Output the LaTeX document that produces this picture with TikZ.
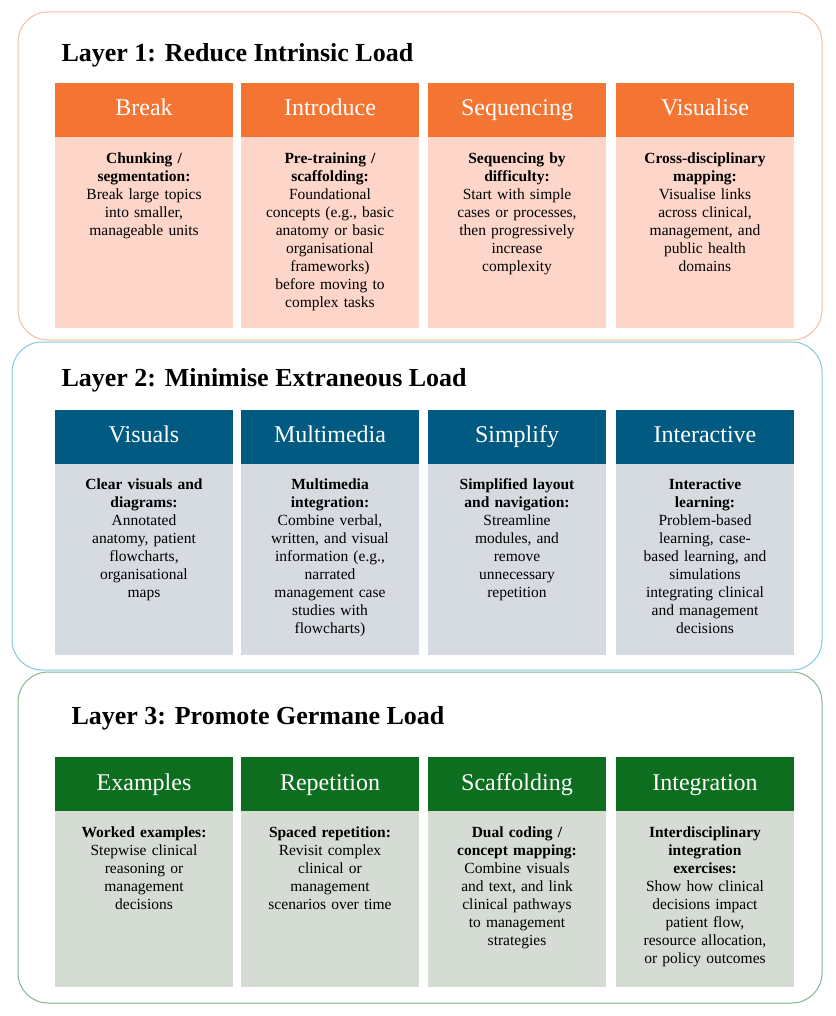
\documentclass[tikz,border=0pt]{standalone}
\usepackage{fontspec}
\setmainfont{Liberation Serif}
\begin{document}
\begin{tikzpicture}[x=1pt,y=-1pt,
  layer/.style={rounded corners=30pt,line width=1pt,fill=white},
  title/.style={anchor=west,font=\fontsize{26}{28}\selectfont\bfseries},
  head/.style={minimum width=178pt,minimum height=54pt,inner sep=0pt,text=white,text height=17pt,text depth=5pt,font=\fontsize{24}{26}\selectfont},
  body/.style={anchor=north,text width=176pt,align=center,font=\fontsize{15.5}{18}\selectfont}]
\definecolor{oh}{HTML}{F47533}\definecolor{ob}{HTML}{FDD5C9}\definecolor{ol}{HTML}{F6BBA0}
\definecolor{bh}{HTML}{005A82}\definecolor{bb}{HTML}{D6DAE1}\definecolor{bl}{HTML}{7FC8E8}
\definecolor{gh}{HTML}{0E6E20}\definecolor{gb}{HTML}{D4DCD4}\definecolor{gl}{HTML}{86B48F}
\useasboundingbox (0,0) rectangle (835,1016);
\draw[layer,draw=ol] (18,12) rectangle (822,340);
\draw[layer,draw=bl] (12,342) rectangle (822,670);
\draw[layer,draw=gl] (18,672) rectangle (822,1003);
\node[title] (t1) at (58,55) {Layer 1: Reduce Intrinsic Load};
\node[title] (t2) at (58,380) {Layer 2: Minimise Extraneous Load};
\node[title] (t3) at (68,718) {Layer 3: Promote Germane Load};
\newcommand\cell[9]{%
  \fill[#6] (#1-89,#2+#3) rectangle (#1+89,#4);
  \node[head,fill=#5] (h#7) at (#1,#2+#3/2) {#8};
  \node[body] (b#7) at (#1,#2+#3+12) {#9};}
\cell{144}{83}{54}{328}{oh}{ob}{a1}{Break}{\textbf{Chunking /\\segmentation:}\\Break large topics\\into smaller,\\manageable units}
\cell{330}{83}{54}{328}{oh}{ob}{a2}{Introduce}{\textbf{Pre-training /\\scaffolding:}\\Foundational\\concepts (e.g., basic\\anatomy or basic\\organisational\\frameworks)\\before moving to\\complex tasks}
\cell{517}{83}{54}{328}{oh}{ob}{a3}{Sequencing}{\textbf{Sequencing by\\difficulty:}\\Start with simple\\cases or processes,\\then progressively\\increase\\complexity}
\cell{705}{83}{54}{328}{oh}{ob}{a4}{Visualise}{\textbf{Cross-disciplinary\\mapping:}\\Visualise links\\across clinical,\\management, and\\public health\\domains}
\cell{144}{410}{53}{655}{bh}{bb}{b1}{Visuals}{\textbf{Clear visuals and\\diagrams:}\\Annotated\\anatomy, patient\\flowcharts,\\organisational\\maps}
\cell{330}{410}{53}{655}{bh}{bb}{b2}{Multimedia}{\textbf{Multimedia\\integration:}\\Combine verbal,\\written, and visual\\information (e.g.,\\narrated\\management case\\studies with\\flowcharts)}
\cell{517}{410}{53}{655}{bh}{bb}{b3}{Simplify}{\textbf{Simplified layout\\and navigation:}\\Streamline\\modules, and\\remove\\unnecessary\\repetition}
\cell{705}{410}{53}{655}{bh}{bb}{b4}{Interactive}{\textbf{Interactive\\learning:}\\Problem-based\\learning, case-\\based learning, and\\simulations\\integrating clinical\\and management\\decisions}
\cell{144}{757}{54}{987}{gh}{gb}{c1}{Examples}{\textbf{Worked examples:}\\Stepwise clinical\\reasoning or\\management\\decisions}
\cell{330}{757}{54}{987}{gh}{gb}{c2}{Repetition}{\textbf{Spaced repetition:}\\Revisit complex\\clinical or\\management\\scenarios over time}
\cell{517}{757}{54}{987}{gh}{gb}{c3}{Scaffolding}{\textbf{Dual coding /\\concept mapping:}\\Combine visuals\\and text, and link\\clinical pathways\\to management\\strategies}
\cell{705}{757}{54}{987}{gh}{gb}{c4}{Integration}{\textbf{Interdisciplinary\\integration\\exercises:}\\Show how clinical\\decisions impact\\patient flow,\\resource allocation,\\or policy outcomes}
\end{tikzpicture}
\end{document}
